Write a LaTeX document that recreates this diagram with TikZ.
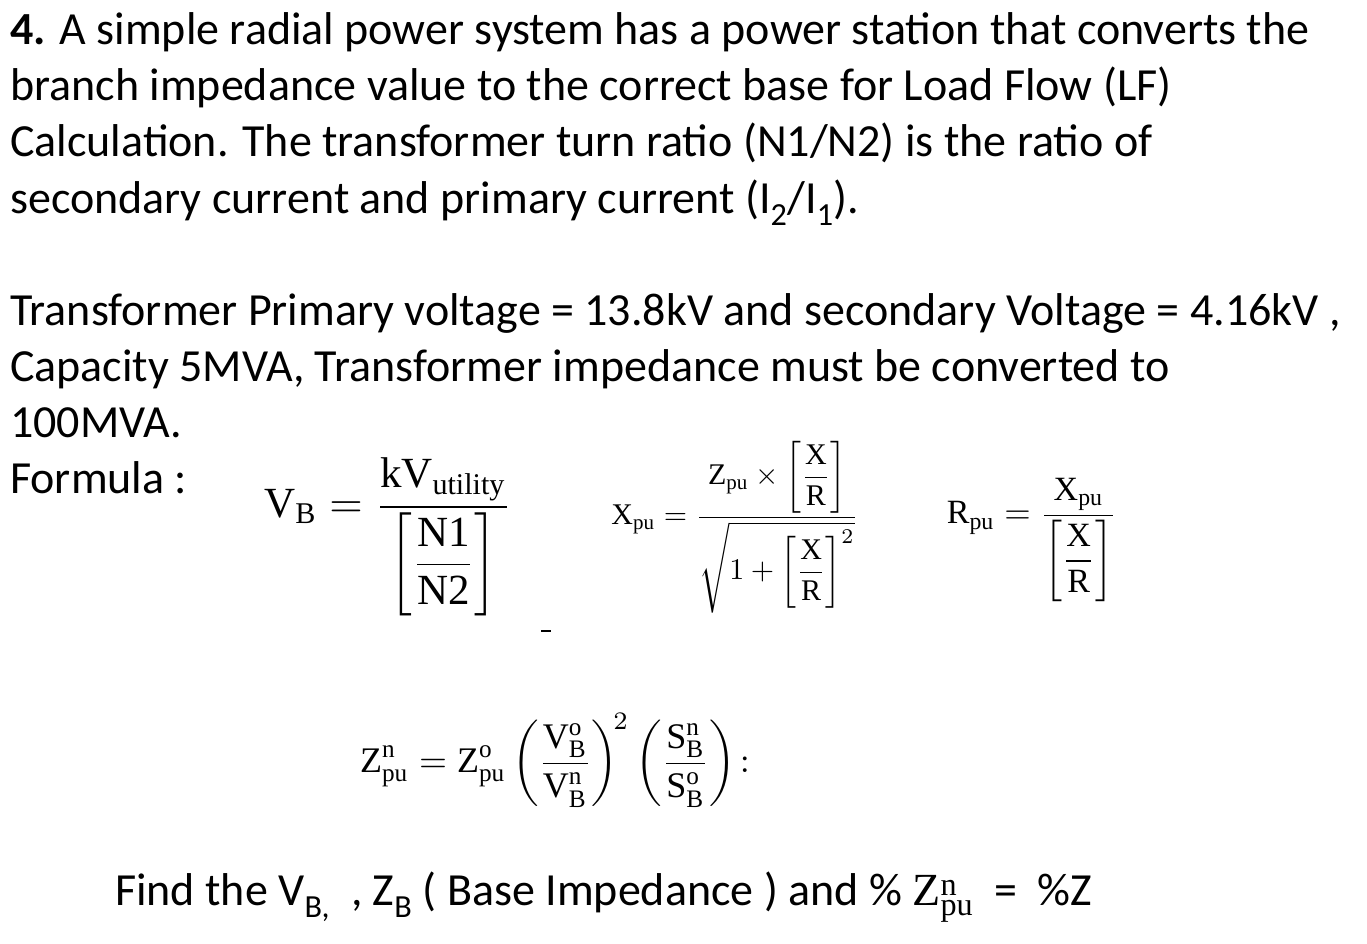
\documentclass[tikz,border=0pt]{standalone}
\usepackage{amsmath}
\usepackage{fontspec}
\setmainfont{Carlito}
\setmathrm{Liberation Serif}
\newfontfamily\tms{Liberation Serif}
\begin{document}
\begin{tikzpicture}[x=1pt,y=-1pt,
 txt/.style={anchor=base west,inner sep=0pt,font=\fontsize{46}{50}\selectfont},
 fml/.style={inner sep=0pt}]
\useasboundingbox[fill=white] (0,0) rectangle (1367,944);
\node[txt] (l1) at (10,45) {\textbf{4.} A simple radial power system has a power station that converts the};
\node[txt] (l2) at (10,101) {branch impedance value to the correct base for Load Flow (LF)};
\node[txt] (l3) at (10,157) {Calculation. The transformer turn ratio (N1/N2) is the ratio of};
\node[txt] (l4) at (10,213) {secondary current and primary current (I\textsubscript{2}/I\textsubscript{1}).};
\node[txt] (l5) at (10,325) {Transformer Primary voltage = 13.8kV and secondary Voltage = 4.16kV ,};
\node[txt] (l6) at (10,381) {Capacity 5MVA, Transformer impedance must be converted to};
\node[txt] (l7) at (10,437) {100MVA.};
\node[txt] (l8) at (10,493) {Formula :};
\node[fml] (vb) at (388,537) {\scalebox{4.3}{$\displaystyle \mathrm{V_B}=\frac{\mathrm{kV}_{\mathrm{utility}}}{\left[\dfrac{\mathrm{N1}}{\mathrm{N2}}\right]}$}};
\node[fml] (xpu) at (735,527) {\scalebox{3.0}{$\displaystyle \mathrm{X_{pu}}=\frac{\mathrm{Z_{pu}}\times\left[\dfrac{\mathrm{X}}{\mathrm{R}}\right]}{\sqrt{1+\left[\dfrac{\mathrm{X}}{\mathrm{R}}\right]^2}}$}};
\node[fml] (rpu) at (1032,540) {\scalebox{3.4}{$\displaystyle \mathrm{R_{pu}}=\frac{\mathrm{X_{pu}}}{\left[\dfrac{\mathrm{X}}{\mathrm{R}}\right]}$}};
\draw[line width=1.5pt] (541,631) -- (551,631);
\node[fml] (z) at (555,760) {\scalebox{3.6}{$\displaystyle \mathrm{Z^n_{pu}}=\mathrm{Z^o_{pu}}\left(\frac{\mathrm{V^o_B}}{\mathrm{V^n_B}}\right)^{\!2}\left(\frac{\mathrm{S^n_B}}{\mathrm{S^o_B}}\right)\!:$}};
\node[txt] (l9) at (115,905) {Find the V\textsubscript{B,}\ \ , Z\textsubscript{B} ( Base Impedance ) and \% {\tms$\mathrm{Z^n_{pu}}$}\ \ =\ \ \%Z};
\end{tikzpicture}
\end{document}
